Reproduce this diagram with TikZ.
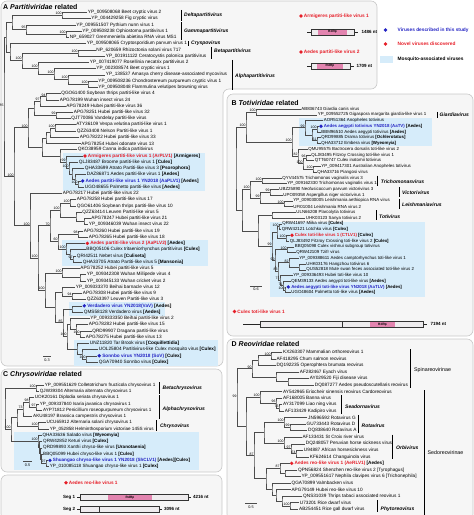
\documentclass[tikz,border=0pt]{standalone}
\usepackage{fontspec}
\setmainfont{Liberation Sans}
\usetikzlibrary{positioning}

\definecolor{novred}{RGB}{230,30,40}
\definecolor{thisblue}{RGB}{35,35,195}
\definecolor{mosblue}{RGB}{214,236,250}
\definecolor{panelgray}{RGB}{246,246,246}
\definecolor{boxgray}{RGB}{200,200,200}
\definecolor{rdrppink}{RGB}{226,132,175}
\definecolor{genfill}{RGB}{238,236,238}

\newcommand{\leafsize}{4.7}
% tree junction: name, position, first child, second child, bootstrap
\newcommand{\clade}[5]{%
  \coordinate[label={[bs]above left:#5}] (#1) at (#2);
  \draw[br] (#3) -| (#1) |- (#4);}

\begin{document}
\begin{tikzpicture}[x=1pt, y=-1pt,
    panel/.style={draw=boxgray, fill=panelgray, line width=0.6pt, rounded corners=6pt},
    mos/.style={fill=mosblue},
    br/.style={draw=black!70, line width=0.45pt},
    lf/.style={anchor=west, inner sep=0.7pt, font=\fontsize{\leafsize}{6}\selectfont},
    nov/.style={lf, text=novred, font=\fontsize{\leafsize}{6}\selectfont\bfseries},
    ths/.style={lf, text=thisblue, font=\fontsize{\leafsize}{6}\selectfont\bfseries},
    dotr/.style={circle, fill=novred, inner sep=0pt, minimum size=3.7pt},
    dotb/.style={circle, fill=thisblue, inner sep=0pt, minimum size=3.7pt},
    bs/.style={inner sep=0.3pt, font=\fontsize{3.5}{4}\selectfont},
    genus/.style={anchor=west, inner sep=0.5pt, font=\fontsize{5}{6}\selectfont\bfseries\itshape},
    subfam/.style={anchor=west, inner sep=0.5pt, font=\fontsize{5.3}{6}\selectfont},
    gbar/.style={draw=black, line width=0.8pt},
    title/.style={anchor=west, inner sep=0.5pt, font=\fontsize{7}{8}\selectfont\bfseries},
    leg/.style={anchor=west, inner sep=0.5pt, font=\fontsize{4.8}{6}\selectfont\bfseries},
    genline/.style={draw=black!85, line width=1pt},
    genome/.style={draw=black!80, fill=genfill, line width=0.4pt},
    rdrp/.style={inner sep=0pt, font=\fontsize{3.2}{4}\selectfont\bfseries},
    nt/.style={anchor=west, inner sep=0.5pt, font=\fontsize{4.5}{5}\selectfont\bfseries},
    scl/.style={anchor=north, inner sep=0.5pt, font=\fontsize{3.8}{4}\selectfont},
]
\useasboundingbox (0,0) rectangle (474,515);

% Panels
\draw[panel] (1,1) -- (377,1) -- (377,89) -- (223,89) -- (223,366) -- (1,366) -- cycle;
\draw[panel] (227,94) rectangle (473,336);
\draw[panel] (227,339) rectangle (473,520);
\draw[panel] (1,369) rectangle (222,472);
\draw[panel] (1,475) rectangle (222,520);

\node[title] (ta) at (2.5,6.5) {A \textit{Partitiviridae} related};
\node[title] (tb) at (231,103) {B \textit{Totiviridae} related};
\node[title] (tc) at (2.5,375) {C \textit{Chrysoviridae} related};
\node[title] (td) at (231,344) {D \textit{Reoviridae} related};

% Legend
\node[dotb] (lg1) at (385.5,30) {};
\node[leg, text=thisblue] (lg1t) at (397,30) {Viruses described in this study};
\node[dotr] (lg2) at (385.5,44) {};
\node[leg, text=novred] (lg2t) at (397,44) {Novel viruses discovered};
\fill[mos] (380,56) rectangle (393,63);
\node[leg] (lg3t) at (397,59.5) {Mosquito-associated viruses};

% Genomes, panel A
\node[dotr] (gd1) at (301,16) {};
\node[nov, font=\fontsize{4.8}{6}\selectfont\bfseries] (gn1) at (gd1.east) {Armigeres partiti-like virus 1};
\draw[genline] (307,32) -- (358,32);
\filldraw[genome] (311,29.3) rectangle (354,34.7);
\fill[rdrppink] (318,29.5) rectangle (347,34.5);
\node[rdrp] (rd1) at (332.5,32) {RdRp};
\node[nt] (nt1) at (361,32) {1486 nt};

\node[dotr] (gd2) at (301,52) {};
\node[nov, font=\fontsize{4.8}{6}\selectfont\bfseries] (gn2) at (gd2.east) {Aedes partiti-like virus 2};
\draw[genline] (307,66) -- (354,66);
\filldraw[genome] (311,63.3) rectangle (350,68.7);
\fill[rdrppink] (317,63.5) rectangle (343,68.5);
\node[rdrp] (rd2) at (330,66) {RdRp};
\node[nt] (nt2) at (356,66) {1709 nt};

% Genome, panel B
\node[dotr] (gdb) at (234.5,311.5) {};
\node[nov, font=\fontsize{4.7}{6}\selectfont\bfseries] (gnb) at (gdb.east) {Culex toti-like virus 1};
\draw[genline] (243,324.3) -- (427,324.3);
\filldraw[genome] (260,321.5) rectangle (422.7,327.1);
\fill[rdrppink] (370,321.7) rectangle (395,326.9);
\draw[genome] (341.7,321.5) -- (341.7,327.1);
\node[rdrp] (rdb) at (382.5,324.3) {RdRp};
\node[nt] (ntb) at (430,324.3) {7194 nt};

% Genome, Aedes reo-like virus 1
\node[dotr] (gds) at (66,482.7) {};
\node[nov, font=\fontsize{4.7}{6}\selectfont\bfseries] (gns) at (gds.east) {Aedes reo-like virus 1};
\node[nt] (sg1) at (62.5,497.3) {Seg 1};
\draw[genline] (77,497.3) -- (191,497.3);
\filldraw[genome] (80,494.6) rectangle (188.3,500);
\fill[rdrppink] (108,494.8) rectangle (151.7,499.8);
\node[rdrp] (rds) at (130,497.3) {RdRp};
\node[nt] (nts1) at (192.5,497.3) {4216 nt};
\node[nt] (sg2) at (62.5,509.3) {Seg 2};
\draw[genline] (77,509.3) -- (162,509.3);
\filldraw[genome] (80,506.6) rectangle (159.3,512);
\draw[genome] (99.3,506.6) -- (99.3,512);
\node[nt] (nts2) at (163.5,509.3) {3096 nt};

% ---------------- A Partitiviridae ----------------
\begin{scope}[yshift=-6.06pt, y=-6.245pt]
\fill[mos] (63,23.45) rectangle (205,29.6);
\fill[mos] (62,37.45) rectangle (208,41.6);
\fill[mos] (69,47.45) rectangle (165,49.6);
\fill[mos] (74,53.45) rectangle (218,57.6);

\node[lf] (a1) at (87,1) {YP\_009508068 Beet cryptic virus 2};
\node[lf] (a2) at (90.5,2) {YP\_004429258 Fig cryptic virus};
\node[lf] (a3) at (75.5,3) {YP\_009551507 Pythium nunn virus 1};
\node[lf] (a4) at (81.5,4) {YP\_009508238 Ophiostoma partitivirus 1};
\node[lf] (a5) at (69,5) {NP\_659027 Gremmeniella abietina RNA virus MS1};
\node[lf] (a6) at (86,6) {YP\_009508065 Cryptosporidium parvum virus 1};
\node[lf] (a7) at (95.5,7) {NP\_620659 Rhizoctonia solani virus 717};
\node[lf] (a8) at (105,8) {YP\_001911122 Ceratocystis polonica partitivirus};
\node[lf] (a9) at (89,9) {YP\_007419077 Rosellinia necatrix partitivirus 2};
\node[lf] (a10) at (95.5,10) {YP\_002308574 Beet cryptic virus 1};
\node[lf] (a11) at (105,11) {YP\_138537 Amasya cherry disease-associated mycovirus};
\node[lf] (a12) at (97.5,12) {YP\_009508236 Chondrostereum purpureum cryptic virus 1};
\node[lf] (a13) at (97.5,13) {YP\_009508048 Flammulina velutipes browning virus};
\node[lf] (a14) at (60.5,14) {QGO61400 Soybean thrips partiti-like virus 4};
\node[lf] (a15) at (59,15) {APG78199 Wuhan insect virus 24};
\node[lf] (a16) at (65.5,16) {APG78249 Hubei partiti-like virus 36};
\node[lf] (a17) at (73,17) {APG78251 Hubei partiti-like virus 32};
\node[lf] (a18) at (70.5,18) {QJT70086 Vandelay partiti-like virus};
\node[lf] (a19) at (75.5,19) {ATY36109 Vespa velutina partiti-like virus 1};
\node[lf] (a20) at (76,20) {QZZ63408 Nelson Partiti-like virus 1};
\node[lf] (a21) at (79,21) {APG78222 Hubei partiti-like virus 33};
\node[lf] (a22) at (80.5,22) {APG78254 Hubei odonate virus 13};
\node[lf] (a23) at (77,23) {QKO38959 Canna indica partitivirus};
\node[dotr] (a24) at (85,24) {};
\node[nov] (a24t) at (a24.east) {Armigeres partiti-like virus 1 (ArPLV1) \textcolor{black}{[Armigeres]}};
\node[lf] (a25) at (78,25) {QLJ83487 Broome partiti-like virus 1 \textbf{[Culex]}};
\node[lf] (a26) at (84,26) {QHA33699 Atrato Partiti-like virus 3 \textbf{[Psorophora]}};
\node[lf] (a27) at (86,27) {DAZ86871 Aedes partiti-like virus 1 \textbf{[Aedes]}};
\node[dotb] (a28) at (82.7,28) {};
\node[ths] (a28t) at (a28.east) {Aedes partiti-like virus 1 YN2018 (AaPLV1) \textcolor{black}{[Aedes]}};
\node[lf] (a29) at (84,29) {UGO48655 Palmetto partiti-like virus \textbf{[Aedes]}};
\node[lf] (a30) at (62,30) {APG78217 Hubei partiti-like virus 22};
\node[lf] (a31) at (76,31) {APG78258 Hubei partiti-like virus 17};
\node[lf] (a32) at (76,32) {QGO61406 Soybean thrips partiti-like virus 10};
\node[lf] (a33) at (81.5,33) {QZZ63414 Leuven Partiti-like virus 5};
\node[lf] (a34) at (90.5,34) {APG78247 Hubei partiti-like virus 21};
\node[lf] (a35) at (88,35) {YP\_009346039 Wuhan insect virus 22};
\node[lf] (a36) at (83,36) {APG78260 Hubei partiti-like virus 19};
\node[lf] (a37) at (88,37) {APG78265 Hubei partiti-like virus 18};
\node[dotr] (a38) at (87.3,38) {};
\node[nov] (a38t) at (a38.east) {Aedes partiti-like virus 2 (AaPLV2) \textcolor{black}{[Aedes]}};
\node[lf] (a39) at (85.5,39) {BBQ05106 Culex tritaeniorhynchus partitivirus \textbf{[Culex]}};
\node[lf] (a40) at (76,40) {QRI42511 Nebet virus \textbf{[Culiseta]}};
\node[lf] (a41) at (82,41) {QHA33705 Atrato Partiti-like virus 5 \textbf{[Mansonia]}};
\node[lf] (a42) at (79.5,42) {APG78252 Hubei partiti-like virus 5};
\node[lf] (a43) at (86,43) {YP\_009342308 Wuhan Millipede virus 4};
\node[lf] (a44) at (86,44) {YP\_009345133 Wuhan cricket virus 2};
\node[lf] (a45) at (75,45) {YP\_009333370 Beihai barnacle virus 12};
\node[lf] (a46) at (82,46) {APG78308 Hubei partiti-like virus 9};
\node[lf] (a47) at (86,47) {QZZ63397 Leuven Partiti-like virus 3};
\node[dotb] (a48) at (84.3,48) {};
\node[ths] (a48t) at (a48.east) {Verdadero virus YN2018(VaV) \textcolor{black}{[Aedes]}};
\node[lf] (a49) at (83,49) {QMS58128 Verdadero virus \textbf{[Aedes]}};
\node[lf] (a50) at (89.5,50) {YP\_009333350 Beihai partiti-like virus 2};
\node[lf] (a51) at (88,51) {APG78282 Hubei partiti-like virus 15};
\node[lf] (a52) at (91.5,52) {QRD99907 Dragana partiti-like virus};
\node[lf] (a53) at (85,53) {APG78275 Hubei partiti-like virus 13};
\node[lf] (a54) at (89,54) {UNZ11820 Tar Brook virus \textbf{[Coquillettidia]}};
\node[lf] (a55) at (98,55) {UOL25804 Partitivirus-like Culex mosquito virus \textbf{[Culex]}};
\node[dotb] (a56) at (99.3,56) {};
\node[ths] (a56t) at (a56.east) {Sonnbo virus YN2018 (SoV) \textcolor{black}{[Culex]}};
\node[lf] (a57) at (98,57) {QGA70940 Sonnbo virus \textbf{[Culex]}};

\clade{ad1}{62,1.5}{a1}{a2}{100}
\clade{ag1}{66,4.5}{a4}{a5}{100}
\clade{ag2}{26,3.75}{a3}{ag1}{95}
\clade{adg}{12,2.625}{ad1}{ag2}{}
\clade{ab1}{78,7.5}{a7}{a8}{100}
\clade{aa1}{88,12.5}{a12}{a13}{100}
\clade{aa2}{68,11.75}{a11}{aa1}{100}
\clade{aa3}{54,10.875}{a10}{aa2}{100}
\clade{aa4}{38,9.94}{a9}{aa3}{100}
\clade{aba}{22,8.72}{ab1}{aa4}{100}
\clade{acb}{10,7.36}{a6}{aba}{}
\clade{at}{6,4.99}{adg}{acb}{}
\clade{as1}{46,14.5}{a14}{a15}{94}
\clade{as2}{40,15.25}{as1}{a16}{97}
\clade{as3}{56,17.5}{a17}{a18}{99}
\clade{as4}{34,16.375}{as2}{as3}{}
\clade{as5}{55,19.5}{a19}{a20}{100}
\clade{as6}{50,20.25}{as5}{a21}{}
\clade{as7}{46,21.125}{as6}{a22}{}
\clade{am1}{78,28.5}{a28}{a29}{100}
\clade{am2}{75,27.75}{a27}{am1}{}
\clade{am3}{72,26.875}{a26}{am2}{}
\clade{am4}{69,25.94}{a25}{am3}{100}
\clade{am5}{66,24.97}{a24}{am4}{99}
\clade{as8}{60,23.98}{a23}{am5}{}
\clade{as9}{42,22.55}{as7}{as8}{}
\clade{ai1}{28,19.46}{as4}{as9}{100}
\clade{au1}{70,31.5}{a31}{a32}{100}
\clade{au2}{84,34.5}{a34}{a35}{}
\clade{au3}{76,33.75}{a33}{au2}{}
\clade{au4}{60,32.625}{au1}{au3}{100}
\clade{au5}{78,36.5}{a36}{a37}{98}
\clade{av1}{73,40.5}{a40}{a41}{97}
\clade{av2}{70,39.75}{a39}{av1}{}
\clade{av3}{66,38.875}{a38}{av2}{100}
\clade{au6}{58,37.69}{au5}{av3}{60}
\clade{au7}{50,35.16}{au4}{au6}{70}
\clade{aw1}{80,43.5}{a43}{a44}{}
\clade{aw2}{62,42.75}{a42}{aw1}{100}
\clade{ax1}{72,46.5}{a46}{a47}{94}
\clade{ax2}{62,45.75}{a45}{ax1}{}
\clade{ax3}{72,48.5}{a48}{a49}{}
\clade{ax4}{80,52.5}{a52}{a53}{100}
\clade{ax5}{76,51.75}{a51}{ax4}{}
\clade{ax6}{70,50.875}{a50}{ax5}{}
\clade{ax7}{86,56.5}{a56}{a57}{100}
\clade{ax8}{82,55.75}{a55}{ax7}{}
\clade{ax9}{77,54.875}{a54}{ax8}{}
\clade{ax10}{67,52.875}{ax6}{ax9}{100}
\clade{ax11}{63,50.69}{ax3}{ax10}{85}
\clade{ax12}{55,48.22}{ax2}{ax11}{}
\clade{aw3}{45,45.48}{aw2}{ax12}{100}
\clade{au8}{38,40.32}{au7}{aw3}{100}
\clade{ai2}{30,35.16}{a30}{au8}{100}
\clade{ai}{14,27.31}{ai1}{ai2}{100}
\clade{aroot}{4,16.15}{at}{ai}{85}

\draw[gbar] (181,0.6) -- (181,2.4);
\node[genus] (lDelta) at (183.5,1.5) {Deltapartitivirus};
\draw[gbar] (181,2.6) -- (181,5.4);
\node[genus] (lGamma) at (183.5,4) {Gammapartitivirus};
\draw[gbar] (188,5.6) -- (188,6.4);
\node[genus] (lCryspo) at (190.5,6) {Cryspovirus};
\draw[gbar] (211,6.6) -- (211,8.4);
\node[genus] (lBeta) at (213.5,7.3) {Betapartitivirus};
\draw[gbar] (232,8.6) -- (232,13.4);
\node[genus] (lAlpha) at (234.5,11.2) {Alphapartitivirus};

\draw[br] (43,56.04) -- (51,56.04);
\node[scl] (sca) at (47,56.3) {0.3};
\end{scope}

% ---------------- B Totiviridae ----------------
\begin{scope}[yshift=-103.26pt, y=-5.74pt]
\renewcommand{\leafsize}{4.4}
\fill[mos] (299,2.5) rectangle (432,7.5);
\fill[mos] (270,20.6) rectangle (425,33.75);

\node[lf] (b1) at (300.5,1) {AB836743 Giardia canis virus};
\node[lf] (b2) at (317,2) {YP\_009552725 Gigaspora margarita giardia-like virus 1};
\node[lf] (b3) at (323,3) {AOR51364 Anopheles totivirus};
\node[dotb] (b4) at (321,4) {};
\node[ths] (b4t) at (b4.east) {Aedes aegypti totivirus YN2018 (AaTV) \textcolor{black}{[Aedes]}};
\node[lf] (b5) at (320.5,5) {BBM96510 Aedes aegypti totivirus \textbf{[Aedes]}};
\node[lf] (b6) at (320.5,6) {QRD99885 Drama totivirus \textbf{[Ochlerotatus]}};
\node[lf] (b7) at (320.5,7) {QHA33712 Embera virus \textbf{[Wyeomyia]}};
\node[lf] (b8) at (307.5,8) {QMU95575 Bactrocera dorsalis toti-like virus 2};
\node[lf] (b9) at (310.5,9) {QLJ83495 Fitzroy Crossing toti-like virus 1};
\node[lf] (b10) at (314,10) {QTT60747 Culex inatomii totivirus};
\node[lf] (b11) at (320.5,11) {YP\_009417301 Australian Anopheles totivirus};
\node[lf] (b12) at (316.5,12) {QHA33716 Piangosi virus};
\node[lf] (b13) at (281.5,13) {QYV44575 Trichomonas vaginalis virus 3};
\node[lf] (b14) at (286.5,14) {YP\_009162330 Trichomonas vaginalis virus 1};
\node[lf] (b15) at (278.5,15) {UBZ25890 Neofusicoccum parvum victorivirus 3};
\node[lf] (b16) at (282.5,16) {UPO09358 Aspergillus niger victorivirus 1};
\node[lf] (b17) at (292.5,17) {YP\_009030005 Leishmania aethiopica RNA virus};
\node[lf] (b18) at (292.5,18) {UFI01004 Leishmania RNA virus 2};
\node[lf] (b19) at (295.5,19) {ULN66208 Plarcolytia totivirus};
\node[lf] (b20) at (305,20) {UHK03123 Sanya totivirus 2};
\node[lf] (b21) at (281.5,21) {QRW41697 Miika virus \textbf{[Culex]}};
\node[lf] (b22) at (281,22) {QRW42121 Lotchka virus \textbf{[Culex]}};
\node[dotr] (b23) at (292,23) {};
\node[nov] (b23t) at (b23.east) {Culex toti-like virus 1 (CTLV1) \textcolor{black}{[Culex]}};
\node[lf] (b24) at (289,24) {QLJ83492 Fitzroy Crossing toti-like virus 2 \textbf{[Culex]}};
\node[lf] (b25) at (294,25) {BBQ05098 Culex vishnui subgroup totivirus};
\node[lf] (b26) at (295.5,26) {QRW42109 Tzifr virus};
\node[lf] (b27) at (298.5,27) {YP\_009388611 Aedes camptorhynchus toti-like virus 1};
\node[lf] (b28) at (305.5,28) {UHK03176 Hangzhou totivirus 6};
\node[lf] (b29) at (305.5,29) {QUS52818 Mute swan feces associated toti-like virus 2};
\node[lf] (b30) at (292.5,30) {YP\_009336493 Hubei toti-like virus 10};
\node[lf] (b31) at (290.5,31) {QEM39133 Aedes aegypti toti-like virus \textbf{[Aedes]}};
\node[dotb] (b32) at (288.3,32) {};
\node[ths] (b32t) at (b32.east) {Aedes aegypti toti-like virus YN2018 (AaTLV) \textcolor{black}{[Aedes]}};
\node[lf] (b33) at (290.5,33) {UGO48604 Palmetto toti-like virus \textbf{[Aedes]}};

\clade{bgi}{256,1.5}{b1}{b2}{100}
\clade{bt1}{317,4.5}{b4}{b5}{100}
\clade{bt2}{317,6.5}{b6}{b7}{61}
\clade{bt3}{312,5.5}{bt1}{bt2}{}
\clade{bt4}{305,4.25}{b3}{bt3}{99}
\clade{bt5}{306,9.5}{b9}{b10}{96}
\clade{bt6}{313,11.5}{b11}{b12}{100}
\clade{bt7}{303,10.5}{bt5}{bt6}{100}
\clade{bt8}{298,9.25}{b8}{bt7}{82}
\clade{bt9}{292,6.75}{bt4}{bt8}{100}
\clade{bt10}{246,4.125}{bgi}{bt9}{100}
\clade{btr}{262,13.5}{b13}{b14}{100}
\clade{bvi}{270,15.5}{b15}{b16}{99}
\clade{ble}{284,17.5}{b17}{b18}{100}
\clade{bvl}{260,16.5}{bvi}{ble}{99}
\clade{btv}{250,15}{btr}{bvl}{100}
\clade{bto}{272,19.5}{b19}{b20}{}
\clade{bc1}{279,21.5}{b21}{b22}{100}
\clade{bc2}{286,23.5}{b23}{b24}{100}
\clade{bc3}{277,22.5}{bc1}{bc2}{}
\clade{bc4}{287,25.5}{b25}{b26}{100}
\clade{bc5}{299,28.5}{b28}{b29}{}
\clade{bc6}{289,27.75}{b27}{bc5}{82}
\clade{bc7}{285,32.5}{b32}{b33}{100}
\clade{bc8}{283,31.75}{b31}{bc7}{71}
\clade{bc9}{280,30.875}{b30}{bc8}{71}
\clade{bc10}{278,29.31}{bc6}{bc9}{83}
\clade{bc11}{275,27.41}{bc4}{bc10}{99}
\clade{bc12}{272,24.95}{bc3}{bc11}{99}
\clade{btc}{258,22.23}{bto}{bc12}{}
\clade{bttc}{242,18.6}{btv}{btc}{}
\clade{broot}{236,11.37}{bt10}{bttc}{}

\draw[gbar] (437,1.5) -- (437,2.5);
\node[genus] (lGiardia) at (439,2) {Giardiavirus};
\draw[gbar] (377.7,12.6) -- (377.7,14.4);
\node[genus] (lTricho) at (380.2,13.6) {Trichomonasvirus};
\draw[gbar] (399,14.6) -- (399,16.4);
\node[genus] (lVictori) at (401.5,15.6) {Victorivirus};
\draw[gbar] (399,16.6) -- (399,18.4);
\node[genus] (lLeish) at (401.5,17.7) {Leishmaniavirus};
\draw[gbar] (376,18.6) -- (376,20.4);
\node[genus] (lToti) at (378.5,19.8) {Totivirus};

\draw[br] (250,31.8) -- (262,31.8);
\node[scl] (scb) at (256,32.1) {0.6};
\end{scope}

% ---------------- C Chrysoviridae ----------------
\begin{scope}[yshift=-378.72pt, y=-6.28pt]
\renewcommand{\leafsize}{4.6}
\fill[mos] (14,8.5) rectangle (199,14.6);

\node[lf] (c1) at (44,1) {YP\_009551629 Colletotrichum fructicola chrysovirus 1};
\node[lf] (c2) at (39,2) {QJW39304 Alternaria alternata chrysovirus 1};
\node[lf] (c3) at (34,3) {UOK20161 Diplodia seriata chrysovirus 1};
\node[lf] (c4) at (39,4) {YP\_009337840 Isaria javanica chrysovirus 1};
\node[lf] (c5) at (42.3,5) {AYP71812 Penicillium roseopurpureum chrysovirus 1};
\node[lf] (c6) at (32.3,6) {AKU48197 Brassica campestris chrysovirus 1};
\node[lf] (c7) at (45.7,7) {UCU65912 Alternaria solani chrysovirus 1};
\node[lf] (c8) at (49,8) {YP\_052858 Helminthosporium victoriae 145S virus};
\node[lf] (c9) at (41.7,9) {QHA33636 Salado virus \textbf{[Wyeomyia]}};
\node[lf] (c10) at (42.3,10) {QRW42852 Keturi virus \textbf{[Culex]}};
\node[lf] (c11) at (42.3,11) {QRD99893 Xanthi chryso-like virus \textbf{[Uranotaenia]}};
\node[lf] (c12) at (42.3,12) {BBQ05099 Hubei chryso-like virus 1 \textbf{[Culex]}};
\node[dotb] (c13) at (50,13) {};
\node[ths] (c13t) at (c13.east) {Shuangao chryso-like virus 1 YN2018 (ShCLV1) \textcolor{black}{[Aedes][Culex]}};
\node[lf] (c14) at (49,14) {YP\_010085118 Shuangao chryso-like virus 1 \textbf{[Culex]}};

\clade{cbe}{36,1.5}{c1}{c2}{100}
\clade{cal1}{36,4.5}{c4}{c5}{97}
\clade{cal2}{29,3.75}{c3}{cal1}{98}
\clade{cal3}{23,4.875}{cal2}{c6}{73}
\clade{cch}{38,7.5}{c7}{c8}{100}
\clade{cal4}{17,6.19}{cal3}{cch}{}
\clade{cm1}{46,13.5}{c13}{c14}{97}
\clade{cm2}{41.5,12.75}{c12}{cm1}{}
\clade{cm3}{40.5,11.875}{c11}{cm2}{}
\clade{cm4}{39.5,10.94}{c10}{cm3}{}
\clade{cm5}{38,9.97}{c9}{cm4}{100}
\clade{cr1}{11,8.08}{cal4}{cm5}{100}
\clade{croot}{5,4.79}{cbe}{cr1}{}

\draw[gbar] (159.3,0.6) -- (159.3,2.4);
\node[genus] (lBetaC) at (162,1.5) {Betachrysovirus};
\draw[gbar] (159.3,2.6) -- (159.3,6.4);
\node[genus] (lAlphaC) at (162,4.9) {Alphachrysovirus};
\draw[gbar] (156.7,6.6) -- (156.7,8.4);
\node[genus] (lChryso) at (159.4,7.6) {Chrysovirus};

\draw[br] (23,13.2) -- (32,13.2);
\node[scl] (scc) at (27.5,13.5) {0.5};
\end{scope}

% ---------------- D Reoviridae ----------------
\begin{scope}[yshift=-345.77pt, y=-6.53pt]
\node[lf] (d1) at (282.3,1) {KX263307 Mammalian orthoreovirus 1};
\node[lf] (d2) at (275.7,2) {AF418295 Chum salmon reovirus};
\node[lf] (d3) at (275.7,3) {DQ192235 Operophtera brumata reovirus};
\node[lf] (d4) at (299,4) {AF282467 Eyach virus};
\node[lf] (d5) at (309,5) {AY029520 Fiji disease virus};
\node[lf] (d6) at (314,6) {DQ087277 Aedes pseudoscutellaris reovirus};
\node[lf] (d7) at (282.3,7) {AY542965 Eriocheir sinensis reovirus Cardoreovirus};
\node[lf] (d8) at (282.3,8) {AF168005 Banna virus};
\node[lf] (d9) at (282.3,9) {AY317099 Liao ning virus};
\node[lf] (d10) at (284,10) {AF133429 Kadipiro virus};
\node[lf] (d11) at (307.3,11) {JN596592 Rotavirus G};
\node[lf] (d12) at (305.7,12) {GU733443 Rotavirus D};
\node[lf] (d13) at (307.3,13) {DQ838640 Rotavirus A};
\node[lf] (d14) at (301.7,14) {AF133431 St Croix river virus};
\node[lf] (d15) at (305,15) {DQ248057 Peruvian horse sickness virus};
\node[lf] (d16) at (303,16) {U94887 African horsesickness virus};
\node[lf] (d17) at (309,17) {KF624614 Changuinola virus};
\node[dotr] (d18) at (291.7,18) {};
\node[nov] (d18t) at (d18.east) {Aedes reo-like virus 1 (AeRLV1) \textcolor{black}{[Aedes]}};
\node[lf] (d19) at (297.3,19) {QPN56824 Shenzhen reo-like virus 2 [Tyrophagus]};
\node[lf] (d20) at (300.7,20) {YP\_009551617 Nephila clavipes virus 6 [Trichonephila]};
\node[lf] (d21) at (290.7,21) {QGA70899 Valmbacken virus};
\node[lf] (d22) at (290.7,22) {APG79149 Hubei reo-like virus 10};
\node[lf] (d23) at (302.3,23) {QNS31039 Thrips tabaci associated reovirus 1};
\node[lf] (d24) at (299,24) {U73201 Rice dwarf virus};
\node[lf] (d25) at (298.3,25) {AB254451 Rice gall dwarf virus};

\clade{ds1}{271,1.5}{d1}{d2}{100}
\clade{ds2}{258,2.25}{ds1}{d3}{}
\clade{ds3}{288,5.5}{d5}{d6}{}
\clade{ds4}{276,4.75}{d4}{ds3}{}
\clade{ds5}{252,3.5}{ds2}{ds4}{90}
\clade{dd1}{279,9.5}{d9}{d10}{76}
\clade{dd2}{276,8.75}{d8}{dd1}{96}
\clade{dd3}{260,7.875}{d7}{dd2}{100}
\clade{dr1}{290,12.5}{d12}{d13}{99}
\clade{dr2}{284,11.75}{d11}{dr1}{100}
\clade{do1}{296,16.5}{d16}{d17}{74}
\clade{do2}{291,15.75}{d15}{do1}{97}
\clade{do3}{284,14.875}{d14}{do2}{100}
\clade{dro}{264,13.31}{dr2}{do3}{}
\clade{de1}{285,19.5}{d19}{d20}{}
\clade{de2}{280,18.75}{d18}{de1}{87}
\clade{dp1}{290,24.5}{d24}{d25}{100}
\clade{dp2}{282,23.75}{d23}{dp1}{}
\clade{dp3}{276,22.875}{d22}{dp2}{}
\clade{dp4}{272,21.94}{d21}{dp3}{}
\clade{dep}{266,20.34}{de2}{dp4}{}
\clade{droep}{254,16.83}{dro}{dep}{87}
\clade{dsedo}{246,12.35}{dd3}{droep}{}
\clade{droot}{237,7.93}{ds5}{dsedo}{99}

\draw[gbar] (410.7,0.5) -- (410.7,6.4);
\node[subfam] (lSpina) at (413.5,3.7) {Spinareovirinae};
\draw[gbar] (424,6.8) -- (424,26);
\node[subfam] (lSedo) at (427,16.3) {Sedoreovirinae};
\draw[gbar] (341.7,7.6) -- (341.7,10.4);
\node[genus] (lSeadorna) at (344.5,9.3) {Seadornavirus};
\draw[gbar] (358.3,10.6) -- (358.3,13.4);
\node[genus] (lRota) at (361,12.2) {Rotavirus};
\draw[gbar] (392.7,13.6) -- (392.7,17.4);
\node[genus] (lOrbi) at (395.5,15.6) {Orbivirus};
\draw[gbar] (377.3,23.6) -- (377.3,25.4);
\node[genus] (lPhyto) at (380,25) {Phytoreovirus};

\draw[br] (245,24.1) -- (257,24.1);
\node[scl] (scd) at (251,24.4) {0.5};
\end{scope}
\end{tikzpicture}
\end{document}
